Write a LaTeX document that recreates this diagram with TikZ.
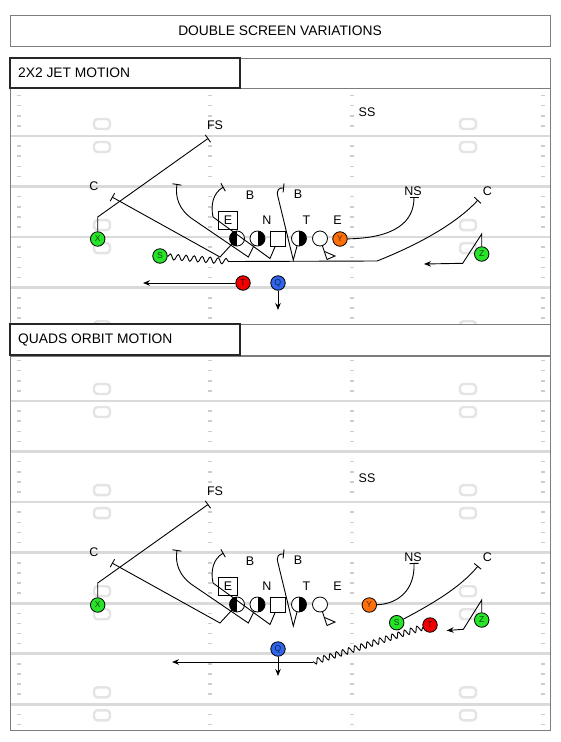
\documentclass[tikz,border=0pt]{standalone}
\usepackage{fontspec}
\setmainfont{Liberation Sans}
\usetikzlibrary{decorations.pathmorphing,arrows.meta}
\definecolor{ydgray}{RGB}{218,218,218}
\definecolor{hashgray}{RGB}{205,205,205}
\definecolor{numgray}{RGB}{228,228,228}
\definecolor{framegray}{RGB}{125,125,125}
\definecolor{pgreen}{RGB}{40,228,40}
\definecolor{porange}{RGB}{255,112,10}
\definecolor{pred}{RGB}{240,0,0}
\definecolor{pblue}{RGB}{48,100,235}
\tikzset{
  ydline/.style={draw=ydgray,line width=2.6pt},
  hashm/.style={draw=hashgray,line width=1.5pt},
  yardnum/.style={draw=numgray,line width=2.4pt,rounded corners=3.5pt},
  fieldframe/.style={draw=framegray,line width=1pt},
  titlebox/.style={draw=framegray,line width=1pt,minimum width=540pt,minimum height=31pt,inner sep=0,font=\fontsize{13.8}{16}\selectfont},
  hdrbox/.style={draw=black!85,line width=1.4pt,minimum width=230pt,minimum height=30pt,inner sep=0},
  hdrboxr/.style={draw=framegray,line width=1pt,minimum width=310pt,minimum height=30pt,inner sep=0},
  hdrtxt/.style={font=\fontsize{13.8}{16}\selectfont,inner sep=0,anchor=west},
  lbl/.style={font=\fontsize{12.5}{14}\selectfont,inner sep=0},
  boxlbl/.style={lbl,draw=black,line width=0.9pt,minimum size=18.5pt},
  player/.style={circle,draw=black,line width=0.8pt,minimum size=14.5pt,inner sep=0,font=\fontsize{8.5}{9}\selectfont},
  lman/.style={circle,draw=black,line width=0.8pt,minimum size=15pt,inner sep=0,fill=white},
  cman/.style={rectangle,draw=black,line width=0.8pt,minimum size=15pt,inner sep=0,fill=white},
  lhalf/.style={lman,path picture={\fill[black] (path picture bounding box.south west) rectangle (path picture bounding box.north);}},
  rhalf/.style={lman,path picture={\fill[black] (path picture bounding box.south) rectangle (path picture bounding box.north east);}},
  route/.style={draw=black,line width=0.9pt},
  blk/.style={route,-{Bar[width=9pt,line width=0.9pt]}},
  run/.style={route,-{Stealth[length=7pt,width=5.5pt]}},
  motion/.style={route,decorate,decoration={snake,segment length=#1,amplitude=2.9pt}},
  motion/.default=7.5pt,
}
\newcommand\fieldbg[3]{%
  \begin{scope}
    \clip (10,#1) rectangle (550,#2);
    \foreach \k in {-2,...,8}{%
      \pgfmathsetmacro\yy{#3+50.55*\k}%
      \draw[ydline] (10,\yy) -- (550,\yy);
      \foreach \h in {1,...,4}{%
        \foreach \hx in {19,210,352,543}{%
          \draw[hashm] (\hx-2,\yy+10.11*\h) -- (\hx+2,\yy+10.11*\h);
        }%
      }%
    }%
    \foreach \k in {-2,0,...,8}{%
      \pgfmathsetmacro\yy{#3+50.55*\k}%
      \foreach \nx in {102,468}{%
        \draw[yardnum] (\nx-8,\yy-17) rectangle (\nx+8,\yy-7);
        \draw[yardnum] (\nx-8,\yy+6) rectangle (\nx+8,\yy+16);
      }%
    }%
  \end{scope}
  \draw[fieldframe] (10,#1) rectangle (550,#2);
}
\newcommand\formation[1]{%
  \node[lbl] (fs#1) at (215,125) {FS};
  \node[lbl] (ss#1) at (367,112) {SS};
  \node[lbl] (cl#1) at (94,186) {C};
  \node[lbl] (ba#1) at (250,195) {B};
  \node[lbl] (bb#1) at (298,194.5) {B};
  \node[boxlbl] (ea#1) at (228,220.5) {E};
  \node[lbl] (n#1) at (267,220) {N};
  \node[lbl] (dt#1) at (306.5,220) {T};
  \node[lbl] (eb#1) at (337.5,220) {E};
  \node[lbl] (ns#1) at (413,191) {NS};
  \node[lbl] (cr#1) at (487.5,191) {C};
  \node[lhalf] (lt#1) at (237,238.5) {};
  \node[rhalf] (lg#1) at (257.5,238.5) {};
  \node[cman] (oc#1) at (278.3,239) {};
  \node[rhalf] (rg#1) at (299,238.5) {};
  \node[lman] (rt#1) at (320,238.5) {};
  \node[player,fill=pgreen,text=pgreen!30!black] (x#1) at (97.7,239) {X};
  \node[player,fill=pgreen,text=pgreen!30!black] (z#1) at (481.7,254) {Z};
  \node[player,fill=pblue,text=pblue!35!black] (q#1) at (278,283) {Q};
  \coordinate (fsk#1) at (208.3,138.3);
  \coordinate (clk#1) at (112,197);
  \coordinate (bak#1) at (177,184);
  \coordinate (bbk#1) at (223.5,187);
  \coordinate (rgk#1) at (284,188);
  \coordinate (nsk#1) at (414,197);
  \coordinate (crk#1) at (478,200);
  \draw[blk] (x#1) -- (97.7,217) -- (fsk#1);
  \draw[blk] (lt#1) -- (220,257) -- (clk#1);
  \draw[blk] (lg#1) -- (248.3,257) -- (191,218) .. controls (179,209) and (175,197) .. (bak#1);
  \draw[blk] (oc#1) -- (270,258.5) -- (213,217) .. controls (210.5,205) and (213,193) .. (bbk#1);
  \draw[blk] (rg#1) -- (293.3,260) -- (278,197) .. controls (276,190) and (279,187.5) .. (rgk#1);
  \draw[route] (rt#1) -- (327,259.5);
  \draw[route] (324.5,251.5) -- (335,256) -- (327,259.5);
  \draw[run] (q#1) -- (278,310);
}
\begin{document}
\begin{tikzpicture}[x=1pt,y=-1pt]
\useasboundingbox (0,0) rectangle (560,742);
\fill[white] (0,0) rectangle (560,742);
\node[titlebox] (title) at (280,30.5) {DOUBLE SCREEN VARIATIONS};
\fieldbg{88}{324}{136}
\fieldbg{356}{730}{401}
\node[hdrboxr] (h1r) at (395,73) {};
\node[hdrbox] (h1) at (125,73) {};
\node[hdrtxt] (h1t) at (18,73) {2X2 JET MOTION};
\node[hdrboxr,minimum height=31pt] (h2r) at (395,339.5) {};
\node[hdrbox,minimum height=31pt] (h2) at (125,339.5) {};
\node[hdrtxt] (h2t) at (18,340) {QUADS ORBIT MOTION};
% ---- field 1
\formation{a}
\node[player,fill=pgreen,text=pgreen!30!black] (sa) at (160,256) {S};
\node[player,fill=pred,text=pred!35!black] (ta) at (243,283) {T};
\node[player,fill=porange,text=porange!35!black] (ya) at (340,239) {Y};
\coordinate (sma) at (229,261.5);
\coordinate (tea) at (143,283);
\coordinate (zea) at (424,264);
\draw[motion=8pt] (sa) -- (sma);
\draw[blk] (sma) -- (377,261) .. controls (415,246) and (455,225) .. (crka);
\draw[blk] (ya) .. controls (395,238) and (414,222) .. (nska);
\draw[run] (za) -- (481.7,234) -- (462.7,263.3) -- (zea);
\draw[run] (ta) -- (tea);
% ---- field 2
\begin{scope}[yshift=-366pt]
\formation{b}
\end{scope}
\node[player,fill=porange,text=porange!35!black] (yb) at (369.3,605) {Y};
\node[player,fill=pgreen,text=pgreen!30!black] (sb) at (396.7,622.7) {S};
\node[player,fill=pred,text=pred!35!black] (tb) at (430,625) {T};
\coordinate (tmb) at (313,662);
\coordinate (teb) at (172,662);
\coordinate (zeb) at (446.7,630.5);
\draw[blk] (yb) .. controls (398,604) and (415,590) .. (nskb);
\draw[blk] (sb) .. controls (430,605) and (460,588) .. (crkb);
\draw[motion=6.5pt] (tb) -- (tmb);
\draw[run] (tmb) -- (teb);
\draw[run] (zb) -- (481.7,600) -- (463.3,629.3) -- (zeb);
\end{tikzpicture}
\end{document}
